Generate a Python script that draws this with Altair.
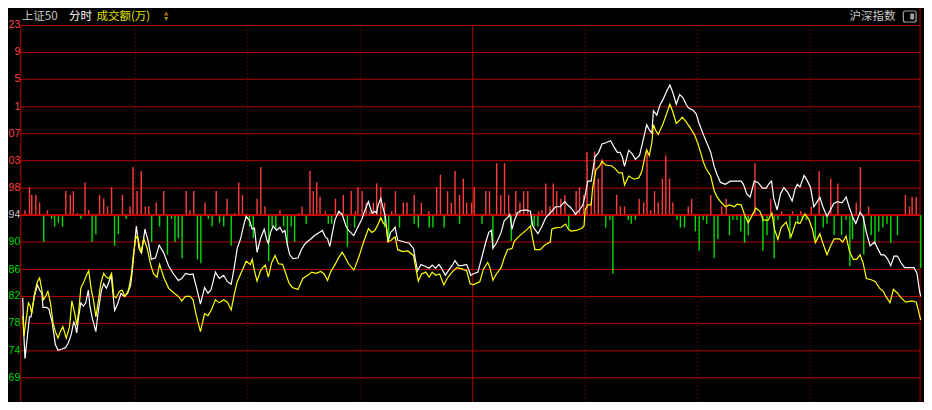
import altair as alt
import pandas as pd

# ---------------- data ----------------
white_pts = [(0,-12.9),(0.3,-18.7),(0.6,-22.4),(1.1,-19.7),(1.8,-15.9),(2.2,-15.9),(3.1,-12.7),(3.9,-10.9),(4.5,-11.7),(5.1,-12.2),(5.4,-14.4),(6.4,-14.4),(7.0,-14.7),(7.9,-16.9),(8.7,-20.2),(9.4,-21.1),(10.5,-20.9),(11.4,-20.7),(12.2,-19.9),(12.9,-18.7),(13.6,-16.7),(14.0,-17.2),(14.4,-18.4),(14.9,-15.9),(15.5,-13.7),(16.2,-14.2),(16.8,-13.7),(17.5,-11.7),(17.9,-14.2),(18.6,-16.2),(19.5,-18.2),(20.1,-15.2),(21.0,-11.7),(21.6,-10.7),(22.3,-11.4),(22.7,-10.9),(23.6,-9.4),(24.5,-14.9),(25.3,-13.9),(26.2,-12.2),(27.1,-12.7),(28.0,-12.2),(28.8,-10.9),(29.3,-8.2),(30.3,-1.7),(31.0,-5.2),(31.7,-5.9),(32.6,-2.2),(33.5,-4.2),(34.3,-6.9),(35.4,-6.7),(36.4,-4.7),(37.6,-5.9),(38.9,-7.9),(40.2,-9.2),(41.5,-10.2),(42.4,-9.9),(43.4,-9.1),(44.6,-9.3),(45.4,-9.2),(46.3,-11.2),(47.4,-13.9),(48.5,-11.3),(49.4,-12.2),(50.2,-11.7),(51.4,-8.9),(52.4,-9.9),(53.6,-9.4),(54.6,-10.4),(55.6,-10.8),(56.4,-8.2),(57.2,-5.2),(58.1,-3.7),(59.0,-1.4),(59.6,-0.2),(60.5,-0.9),(61.2,-2.2),(61.8,-2.0),(62.5,-5.8),(63.4,-3.7),(64.4,-2.2),(65.1,-3.9),(65.5,-4.4),(66.1,-2.7),(66.8,-1.7),(67.7,-2.4),(68.6,-1.9),(69.3,-2.7),(69.9,-2.4),(70.5,-4.4),(71.2,-6.2),(72.1,-6.8),(73.4,-6.7),(74.3,-5.4),(75.4,-4.4),(76.9,-3.7),(77.8,-3.2),(79.1,-2.7),(79.9,-2.4),(80.7,-3.4),(81.3,-3.7),(81.9,-4.9),(82.6,-2.7),(83.3,-0.7),(84.3,0.6),(85.2,0.1),(86.2,-1.7),(86.9,-2.4),(88.3,-3.2),(89.1,-2.2),(90.4,-0.7),(91.3,0.8),(92.2,2.1),(92.6,1.3),(93.2,0.3),(93.9,0.6),(94.4,0.3),(94.8,1.6),(95.5,2.6),(96.1,1.1),(96.7,-0.2),(97.4,-4.2),(98.1,-2.7),(98.7,-2.4),(99.3,-1.9),(100.0,-3.9),(101.8,-4.2),(103.1,-4.4),(104.2,-5.2),(104.8,-7.2),(105.3,-8.7),(106.2,-7.7),(107.0,-7.9),(108.4,-8.3),(109.2,-7.8),(110.1,-8.3),(111.0,-7.7),(111.8,-8.4),(112.7,-9.4),(113.6,-8.6),(114.5,-7.9),(115.3,-7.1),(116.2,-7.9),(117.1,-7.9),(118.4,-7.7),(119.5,-9.4),(120.1,-9.2),(121.4,-8.9),(122.3,-6.9),(123.5,-4.2),(124.3,-2.7),(125.0,-2.4),(125.4,-5.2),(126.3,-4.4),(127.6,-2.7),(128.4,-0.9),(129.3,-0.4),(129.9,0.1),(130.5,-2.2),(131.1,-0.9),(131.9,0.3),(132.8,0.7),(134.1,0.8),(135.4,0.6),(136.0,-1.7),(137.4,-2.9),(138.5,-1.7),(139.5,-0.4),(141.1,0.6),(142.1,1.3),(143.3,1.3),(144.6,2.1),(145.3,1.6),(145.9,1.3),(146.8,0.7),(147.4,0.1),(148.5,0.8),(149.4,1.6),(150.0,3.1),(150.7,5.3),(151.6,5.3),(152.0,6.8),(152.6,9.1),(153.6,9.8),(154.5,11.1),(155.5,11.3),(156.8,11.6),(157.7,10.6),(158.6,9.8),(159.3,9.8),(159.9,9.1),(160.5,7.6),(161.6,10.1),(162.5,9.6),(163.4,8.7),(164.5,9.3),(165.1,10.8),(165.7,12.3),(166.4,14.1),(167.1,13.3),(167.8,12.8),(168.2,16.3),(169.1,15.6),(169.9,17.1),(170.8,18.1),(171.7,19.3),(172.6,20.3),(173.4,19.1),(174.3,17.3),(175.2,18.8),(176.1,18.3),(176.9,17.3),(177.6,16.7),(178.7,16.4),(179.6,15.8),(180.4,14.3),(181.5,12.6),(182.2,11.6),(183.5,9.8),(184.4,7.6),(185.2,6.3),(186.1,5.1),(187.4,4.8),(188.7,5.3),(190.5,5.3),(191.6,5.3),(192.2,4.8),(193.1,3.3),(194.0,2.8),(195.1,5.3),(196.1,5.1),(197.3,4.2),(198.3,4.2),(198.9,4.8),(199.7,5.3),(200.3,2.6),(201.2,0.8),(202.1,3.3),(203.0,4.3),(204.0,3.6),(205.2,2.2),(206.0,4.1),(206.6,4.8),(207.3,4.4),(208.4,6.2),(209.3,5.3),(210.1,4.3),(211.0,1.3),(211.9,2.1),(212.6,2.8),(213.4,1.3),(214.5,-0.2),(215.4,0.8),(216.3,1.8),(217.3,2.1),(218.5,1.9),(219.6,2.8),(220.5,1.1),(221.4,-0.4),(222.2,-1.3),(223.3,0.4),(224.1,-0.2),(225.0,-2.7),(226.0,-4.8),(227.2,-4.2),(228.0,-5.2),(228.9,-6.2),(229.8,-6.2),(230.7,-6.9),(231.5,-7.9),(232.4,-6.4),(233.3,-6.4),(234.2,-7.4),(235.2,-8.2),(236.4,-8.2),(237.7,-8.2),(238.5,-9.1),(239.2,-11.9),(239.5,-12.7)]

yellow_pts = [(0,-15.7),(0.3,-18.9),(0.9,-16.4),(1.5,-13.7),(2.0,-14.2),(2.4,-15.4),(3.1,-12.4),(3.9,-10.4),(4.5,-9.8),(5.1,-11.7),(5.5,-13.2),(6.1,-12.7),(6.7,-11.9),(7.4,-13.7),(8.1,-16.9),(8.7,-18.2),(9.4,-19.2),(10.0,-18.2),(10.7,-17.4),(11.1,-18.2),(11.6,-19.2),(12.5,-17.4),(13.1,-13.4),(13.8,-15.2),(14.4,-17.2),(14.9,-15.2),(15.5,-11.4),(16.3,-10.4),(17.0,-9.4),(17.6,-8.7),(18.3,-11.7),(18.9,-13.4),(19.5,-15.9),(20.1,-13.7),(20.8,-10.7),(21.6,-9.1),(22.3,-9.7),(23.0,-9.9),(23.7,-9.1),(24.3,-12.7),(24.9,-12.9),(25.8,-11.9),(26.5,-11.7),(27.3,-12.7),(28.2,-11.7),(29.0,-9.2),(29.5,-6.2),(30.1,-3.7),(30.6,-3.2),(31.0,-4.4),(31.5,-5.9),(32.3,-3.7),(33.2,-5.2),(34.1,-7.7),(34.9,-9.2),(35.8,-9.7),(36.5,-7.7),(37.6,-9.7),(38.9,-11.4),(40.4,-12.2),(41.5,-12.7),(42.4,-13.4),(43.4,-12.7),(44.6,-12.7),(45.4,-13.2),(46.3,-15.7),(47.4,-18.2),(48.5,-15.4),(49.4,-15.7),(50.4,-14.7),(51.4,-13.2),(52.4,-13.7),(53.6,-13.2),(54.6,-13.6),(55.6,-14.8),(56.4,-12.4),(57.2,-10.4),(58.5,-8.7),(59.6,-7.2),(60.7,-7.7),(61.2,-6.9),(61.8,-8.7),(62.5,-10.3),(63.4,-8.7),(64.0,-8.2),(64.7,-7.8),(65.5,-9.7),(66.4,-7.4),(67.3,-6.3),(68.2,-7.6),(69.3,-7.7),(70.2,-9.2),(71.0,-10.6),(71.9,-11.3),(73.4,-11.6),(74.7,-9.9),(76.0,-9.4),(77.1,-8.9),(78.2,-9.1),(79.5,-8.8),(80.4,-9.2),(81.3,-10.2),(82.1,-8.9),(83.3,-7.7),(84.3,-6.6),(85.2,-5.8),(86.1,-6.7),(86.9,-7.6),(88.3,-8.6),(89.1,-7.4),(90.0,-5.9),(90.9,-4.2),(92.2,-2.1),(93.1,-2.7),(93.9,-2.4),(94.8,-1.4),(95.5,-0.4),(96.1,-1.2),(97.0,-1.7),(97.4,-4.2),(98.3,-3.9),(99.3,-3.4),(100.0,-5.4),(101.4,-5.7),(102.7,-5.6),(104.2,-6.3),(104.8,-8.2),(105.5,-10.3),(106.4,-9.2),(107.5,-8.9),(108.4,-9.7),(109.2,-8.9),(110.1,-9.4),(111.2,-9.2),(112.3,-10.9),(113.2,-9.9),(114.5,-8.9),(115.8,-8.2),(117.1,-8.4),(118.4,-8.7),(119.3,-10.7),(120.1,-10.9),(121.9,-10.4),(122.9,-8.4),(124.0,-7.4),(124.6,-8.2),(125.4,-10.2),(126.3,-9.2),(127.6,-8.2),(128.4,-6.7),(129.3,-5.4),(130.5,-5.2),(131.1,-4.1),(132.2,-3.4),(133.2,-2.9),(134.6,-2.2),(135.4,-1.7),(136.0,-3.7),(136.6,-5.4),(138.0,-5.4),(139.4,-4.6),(140.7,-4.2),(141.1,-2.2),(142.0,-2.0),(143.6,-1.9),(144.8,-1.4),(145.5,-2.2),(146.2,-2.5),(147.6,-2.4),(149.0,-2.1),(149.7,-1.7),(150.0,0.8),(150.7,1.6),(151.6,1.6),(152.0,4.3),(152.9,7.1),(153.8,7.6),(154.5,8.4),(155.5,7.8),(157.0,7.7),(157.9,7.3),(159.0,6.6),(159.9,6.6),(160.5,4.7),(161.6,6.1),(163.0,5.6),(164.3,5.8),(165.1,6.8),(166.0,9.3),(166.4,10.2),(167.1,9.3),(167.8,11.3),(168.2,14.1),(168.9,13.1),(169.5,12.6),(170.8,14.3),(171.7,15.8),(172.6,17.3),(173.4,16.1),(174.3,14.3),(175.2,14.8),(175.9,15.3),(176.9,14.6),(177.8,13.8),(179.1,12.6),(180.0,11.3),(180.9,9.6),(181.5,8.3),(182.2,7.3),(183.5,6.1),(184.4,3.8),(185.2,2.8),(186.1,2.1),(187.4,1.3),(188.5,1.6),(189.8,1.3),(190.5,1.7),(191.6,1.6),(192.5,0.1),(193.5,-1.2),(194.4,-0.2),(195.5,1.1),(196.6,0.6),(197.5,-0.8),(198.8,-0.8),(199.8,0.3),(200.5,-2.2),(201.4,-3.8),(202.3,-1.9),(203.6,-1.1),(204.9,-3.4),(206.2,-1.1),(207.3,-1.3),(208.6,0.2),(209.7,-0.7),(210.6,-2.2),(211.4,-4.3),(212.6,-2.9),(213.4,-4.4),(214.5,-6.2),(215.4,-4.9),(216.4,-3.7),(217.8,-3.7),(218.7,-4.2),(219.6,-3.3),(220.5,-5.7),(221.5,-6.9),(222.4,-6.9),(223.3,-6.2),(224.1,-7.4),(225.0,-9.9),(226.3,-10.1),(227.4,-10.4),(228.5,-11.4),(229.5,-11.9),(230.2,-12.7),(231.3,-13.7),(232.2,-11.6),(233.3,-12.2),(234.2,-12.9),(235.5,-13.6),(237.2,-13.4),(238.3,-13.6),(239.0,-15.2),(239.5,-16.4)]

up_bars = [(0.6,5),(1.8,29),(2.4,21),(3.5,21),(4.5,13),(6.6,5),(11.5,25),(12.7,21),(13.5,25),(14.6,2),(16.6,34),(17.6,5),(20.5,21),(21.6,17),(22.6,9),(23.7,29),(26.6,21),(28.6,9),(29.4,50),(30.5,25),(31.6,46),(32.7,9),(33.6,9),(35.6,13),(37.6,25),(43.6,25),(44.6,5),(45.6,25),(48.6,13),(51.6,25),(54.5,17),(56.6,2),(57.6,34),(58.6,21),(62.5,17),(63.5,50),(64.6,9),(68.6,5),(73.6,2),(74.5,9),(76.6,46),(77.5,25),(78.4,34),(79.3,19),(80.7,4),(83.4,17),(84.3,4),(85.5,21),(87.6,25),(88.7,4),(89.4,29),(90.5,25),(91.6,13),(92.6,4),(93.5,13),(94.4,33),(95.5,29),(96.5,13),(98.4,4),(99.4,25),(101.5,13),(102.5,13),(104.4,21),(106.3,13),(108.3,4),(110.4,29),(111.4,42),(113.3,25),(114.3,13),(115.3,46),(116.5,21),(117.5,38),(118.4,13),(119.7,13),(120.4,29),(123.5,25),(124.5,25),(126.4,54),(127.5,21),(128.5,54),(129.6,21),(131.5,25),(132.6,13),(133.6,25),(134.7,25),(137.6,4),(138.5,5),(139.5,33),(140.6,9),(141.5,33),(142.4,25),(143.5,17),(144.6,21),(147.6,25),(148.5,29),(149.6,21),(150.5,66),(151.6,13),(152.5,66),(153.5,38),(154.5,58),(158.4,21),(159.4,9),(160.5,9),(164.4,17),(165.6,13),(166.5,66),(167.5,5),(168.5,25),(169.5,13),(170.6,38),(171.5,62),(172.5,38),(173.4,13),(177.5,9),(178.4,17),(183.5,21),(186.4,9),(187.6,17),(195.3,54),(199.5,17),(202.4,4),(205.3,4),(207.5,4),(210.3,9),(212.4,46),(215.5,38),(217.4,33),(222.3,13),(223.4,50),(225.6,9),(235.4,21),(236.5,9),(237.2,19),(238.3,19)]

down_bars = [(5.6,28),(7.7,4),(8.5,12),(9.5,8),(10.6,12),(15.5,4),(18.5,28),(19.5,20),(24.5,32),(25.5,20),(27.6,4),(34.4,28),(36.5,12),(38.6,41),(39.7,4),(40.6,28),(41.5,24),(42.5,45),(46.6,46),(47.5,50),(49.5,4),(50.5,12),(52.5,8),(53.6,12),(55.6,32),(59.6,4),(60.5,12),(61.5,24),(65.6,48),(66.5,12),(67.5,15),(69.6,12),(70.6,32),(71.6,12),(72.5,28),(75.6,9),(81.5,9),(82.4,9),(86.6,33),(88.5,13),(96.5,13),(97.6,25),(100.5,13),(104.4,9),(105.5,13),(108.4,13),(109.4,13),(112.4,13),(116.5,9),(122.5,9),(125.4,34),(130.3,27),(135.7,11),(136.4,12),(137.4,12),(145.6,14),(155.5,13),(156.6,5),(157.4,61),(161.5,5),(162.3,9),(163.4,5),(174.5,5),(175.4,13),(176.5,13),(179.4,17),(180.4,37),(181.5,5),(182.4,9),(184.4,45),(185.4,25),(188.5,21),(189.4,5),(190.5,5),(191.5,17),(192.5,29),(193.5,21),(197.4,37),(198.5,21),(200.4,45),(201.4,5),(204.6,25),(206.7,9),(207.9,5),(209.0,5),(211.4,25),(213.5,13),(214.5,9),(216.4,21),(218.4,21),(219.6,5),(220.6,53),(221.3,25),(224.3,41),(226.3,21),(227.3,29),(228.3,17),(229.4,13),(230.5,9),(231.5,29),(233.3,21),(239.5,55)]

grid_values = [29.6, 25.4, 21.2, 16.9, 12.7, 8.5, 4.2, 0, -4.2, -8.5, -12.7, -16.9, -21.2, -25.4]
grid_labels = ["23", "9", "5", "1", "07", "03", "98", "94", "90", "86", "82", "78", "74", "69"]
dotted_minutes = [30, 60, 90, 150, 180, 210]
midday_minute = [120]

# ---------------- styling ----------------
W, H = 916, 394
SX, SY = 916 / 932, 394 / 410
X_SCALE = alt.Scale(domain=[-3.93, 240.37], nice=False, zero=False)
Y_SCALE = alt.Scale(domain=[-29.18, 32.33], nice=False, zero=False)
B_SCALE = alt.Scale(domain=[-194.5, 215.5], nice=False, zero=False)
GRID = "#b40000"
RED = "#ff3c3c"
GREEN = "#00dc00"
FONT_CJK = "Noto Sans CJK SC"

white_df = pd.DataFrame(white_pts, columns=["m", "v"])
yellow_df = pd.DataFrame(yellow_pts, columns=["m", "v"])
bars_df = pd.DataFrame(
    [(m, h) for m, h in up_bars] + [(m, -h) for m, h in down_bars], columns=["m", "b"]
)
def lab_color(i):
    if i < 7:
        return "#ff4040"
    if i == 7:
        return "#c8c8c8"
    return "#00dc00"
grid_df = pd.DataFrame({
    "v": grid_values,
    "t": grid_labels,
    "c": [lab_color(i) for i in range(len(grid_values))],
})
grid_df_nc = grid_df[grid_df["v"] != 0]
center_df = grid_df[grid_df["v"] == 0]
dot_df = pd.DataFrame({"m": dotted_minutes})
mid_df = pd.DataFrame({"m": midday_minute})
one = alt.Data(values=[{}])

xenc = alt.X("m:Q", scale=X_SCALE, axis=None)

grid_rules = alt.Chart(grid_df_nc).mark_rule(color=GRID, strokeWidth=1).encode(
    y=alt.Y("v:Q", scale=Y_SCALE, axis=None),
    x=alt.value(13 * SX), x2=alt.value(928 * SX),
)
center_rule = alt.Chart(center_df).mark_rule(color="#c80000", strokeWidth=2).encode(
    y=alt.Y("v:Q", scale=Y_SCALE, axis=None),
    x=alt.value(13 * SX), x2=alt.value(928 * SX),
)
dotted = alt.Chart(dot_df).mark_rule(color=GRID, strokeWidth=1, strokeDash=[1, 3]).encode(
    x=xenc, y=alt.value(18 * SY), y2=alt.value(H),
)
midday = alt.Chart(mid_df).mark_rule(color=GRID, strokeWidth=1).encode(
    x=xenc, y=alt.value(18 * SY), y2=alt.value(H),
)
left_border = alt.Chart(one).mark_rule(color=GRID, strokeWidth=1).encode(
    x=alt.value(13 * SX), y=alt.value(18 * SY), y2=alt.value(H),
)
right_border = alt.Chart(one).mark_rule(color=GRID, strokeWidth=1).encode(
    x=alt.value(928 * SX), y=alt.value(0), y2=alt.value(H),
)

bars = alt.Chart(bars_df).mark_rule(strokeWidth=1.4).encode(
    x=xenc,
    y=alt.Y("b:Q", scale=B_SCALE, axis=None),
    y2=alt.datum(0),
    color=alt.condition(alt.datum.b > 0, alt.value(RED), alt.value(GREEN)),
)

white_line = alt.Chart(white_df).mark_line(color="#ffffff", strokeWidth=1.2).encode(
    x=xenc, y=alt.Y("v:Q", scale=Y_SCALE, axis=None), order="m:Q",
)
yellow_line = alt.Chart(yellow_df).mark_line(color="#ffff00", strokeWidth=1.2).encode(
    x=xenc, y=alt.Y("v:Q", scale=Y_SCALE, axis=None), order="m:Q",
)

labels = alt.Chart(grid_df).mark_text(
    align="right", baseline="middle", font="Liberation Sans", fontSize=10.5
).encode(
    x=alt.value(12.3),
    y=alt.Y("v:Q", scale=Y_SCALE, axis=None),
    text="t:N",
    color=alt.Color("c:N", scale=None),
)

def htext(txt, x, color, align="left"):
    return alt.Chart(one).mark_text(
        text=txt, align=align, baseline="middle", font=FONT_CJK, fontSize=11.5, color=color
    ).encode(x=alt.value(x), y=alt.value(9.2))

t1 = htext("上证50", 14 * SX, "#c8c8c8")
t2 = htext("分时", 62 * SX, "#ffffff")
t3 = htext("成交额(万)", 90 * SX, "#e0e000")
t4 = htext("沪深指数", 903 * SX, "#c8c8c8", align="right")
icon_up = alt.Chart(one).mark_point(shape="triangle-up", filled=True, color="#ff9a00", size=22).encode(
    x=alt.value(161 * SX), y=alt.value(5.5))
icon_dn = alt.Chart(one).mark_point(shape="triangle-down", filled=True, color="#f0d000", size=18).encode(
    x=alt.value(161 * SX), y=alt.value(10.8))
box = alt.Chart(one).mark_rect(fill="#000000", stroke="#a0a0a0", strokeWidth=1.2, cornerRadius=2).encode(
    x=alt.value(911 * SX), x2=alt.value(924 * SX), y=alt.value(3), y2=alt.value(14))
box_in = alt.Chart(one).mark_rect(fill="#a0a0a0").encode(
    x=alt.value(918 * SX), x2=alt.value(922 * SX), y=alt.value(5.5), y2=alt.value(11.5))

chart = alt.layer(
    grid_rules, dotted, midday, left_border, right_border, bars, center_rule,
    white_line, yellow_line, labels, t1, t2, t3, t4, icon_up, icon_dn, box, box_in,
).resolve_scale(y="independent").properties(
    width=W, height=H, autosize=alt.AutoSizeParams(type="none"), padding=0,
    background="#000000",
).configure_view(stroke=None)

chart.save("out.html", embed_options={"renderer": "svg", "actions": False})
